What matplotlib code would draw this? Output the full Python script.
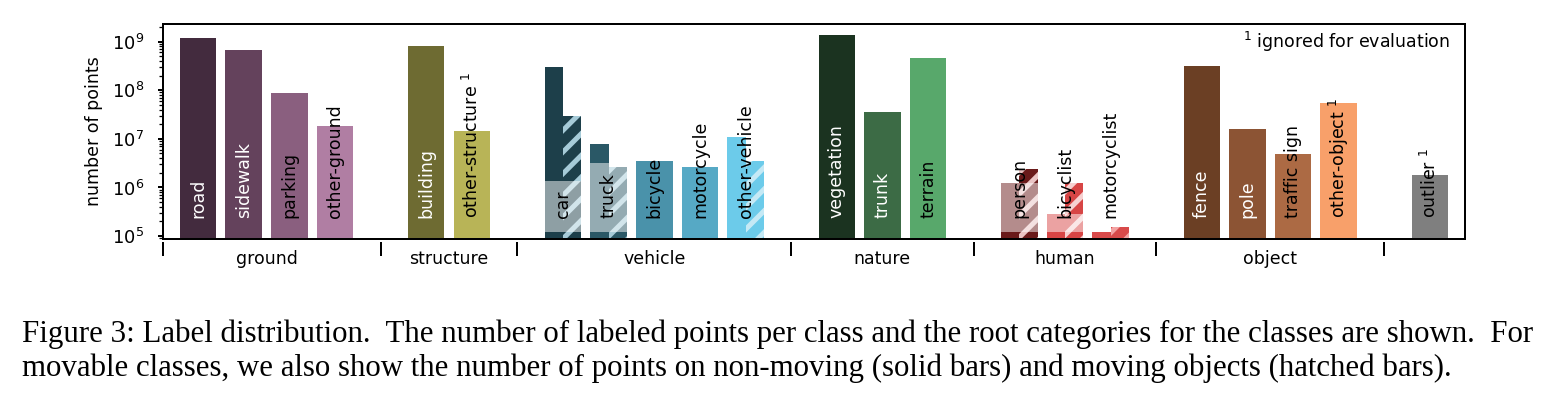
# Label distribution bar chart (log scale) with root categories underneath
import numpy as np
import matplotlib.pyplot as plt

plt.rcParams['hatch.linewidth'] = 2.8

classes = ['road', 'sidewalk', 'parking', 'other-ground',
           'building', 'other-structure',
           'car', 'truck', 'bicycle', 'motorcycle', 'other-vehicle',
           'vegetation', 'trunk', 'terrain',
           'person', 'bicyclist', 'motorcyclist',
           'fence', 'pole', 'traffic sign', 'other-object',
           'outlier']
ignored = ['other-structure', 'other-object', 'outlier']
groups = ['ground', 'structure', 'vehicle', 'nature', 'human', 'object', '']
group_sizes = [4, 2, 5, 3, 3, 4, 1]

# non-moving points per class
points = [1.17e9, 6.7e8, 8.9e7, 1.85e7,
          8.2e8, 1.44e7,
          2.98e8, 7.9e6, 3.5e6, 2.7e6, 1.07e7,
          1.37e9, 3.6e7, 4.6e8,
          1.26e6, 2.85e5, 1.2e5,
          3.16e8, 1.6e7, 4.9e6, 5.6e7,
          1.8e6]
# moving points (hatched half of the bar)
moving = {'car': 2.95e7, 'truck': 2.6e6, 'other-vehicle': 3.5e6,
          'person': 2.35e6, 'bicyclist': 1.23e6, 'motorcyclist': 1.55e5}
# light shaded band on some movable classes
shade_low = 1.2e5
shade_high = {'car': 1.35e6, 'truck': 3.2e6, 'person': 1.26e6, 'bicyclist': 2.85e5}

colors = ['#432b3e', '#64425c', '#8a5f7f', '#b07ea3',
          '#6e6b32', '#b8b457',
          '#1d3f4a', '#2a5866', '#4a92aa', '#56a9c5', '#6ccbea',
          '#1b3320', '#3c6b45', '#58a86b',
          '#6a1a1a', '#d74545', '#d84a4a',
          '#6b3f24', '#8c5434', '#ac6a44', '#f8a06a',
          '#7f7f7f']
hatch_colors = {'car': '#a6cbd8', 'truck': '#a6cbd8', 'other-vehicle': '#c5e9f5',
                'person': '#eac4c4', 'bicyclist': '#f6d0d0', 'motorcyclist': '#f3a3a3'}
white_text = ['road', 'sidewalk', 'building', 'vegetation', 'trunk', 'fence', 'pole']

# x positions: one empty slot between groups
pos, bounds, centers = [], [], []
p = 0
for n in group_sizes:
    pos += list(range(p, p + n))
    centers.append(p + (n - 1) / 2.0)
    bounds.append(p + n)
    p += n + 1

DPI = 130
fig = plt.figure(figsize=(1555 / DPI, 394 / DPI), dpi=DPI)
ax = fig.add_axes((163 / 1555, 1 - 239 / 394, 1302 / 1555, 215 / 394))

w = 0.8
base = 1e4
for i, c in enumerate(classes):
    x = pos[i]
    if c in moving:
        ax.bar(x - w / 4, points[i] - base, width=w / 2, bottom=base, color=colors[i], lw=0)
        ax.bar(x + w / 4, moving[c] - base, width=w / 2, bottom=base, color=colors[i],
               edgecolor=hatch_colors[c], hatch='//', lw=0)
        if c in shade_high:
            ax.bar(x, shade_high[c] - shade_low, width=w, bottom=shade_low,
                   color='white', alpha=0.5, lw=0)
    else:
        ax.bar(x, points[i] - base, width=w, bottom=base, color=colors[i], lw=0)
    label = c + r' $^1$' if c in ignored else c
    ax.text(x, 2.3e5, label, rotation=90, ha='center', va='bottom', fontsize=9.6,
            color='white' if c in white_text else 'black')

ax.set_yscale('log')
ax.set_ylim(8.7e4, 2.31e9)
xlim = (-0.77, 27.77)
ax.set_xlim(*xlim)
ax.set_xticks([])
ax.set_ylabel('number of points', fontsize=9.6, labelpad=5)
ax.tick_params(axis='y', which='major', length=2.8, width=1.1, labelsize=10, pad=7.5)
ax.tick_params(axis='y', which='minor', length=2.2, width=0.7)
for s in ax.spines.values():
    s.set_linewidth(1.1)

ax.text(0.9885, 0.972, r'$^1$ ignored for evaluation', transform=ax.transAxes,
        ha='right', va='top', fontsize=9.6)

# root categories as a second x axis below
ax2 = ax.twiny()
ax2.xaxis.set_ticks_position('bottom')
ax2.xaxis.set_label_position('bottom')
for s in ax2.spines.values():
    s.set_visible(False)
ax2.spines['bottom'].set_position(('outward', 1.7))
ax2.set_xticks([xlim[0]] + [b for b in bounds if b < xlim[1]])
ax2.set_xticklabels([])
ax2.set_xticks(centers, minor=True)
ax2.set_xticklabels(groups, minor=True, fontsize=9.6)
ax2.tick_params(axis='x', which='major', length=7.5, width=1.1, direction='out')
ax2.tick_params(axis='x', which='minor', length=0, pad=4.5)
ax2.set_xlim(*xlim)

cap_font = dict(family='Liberation Serif', fontsize=17.1)
fig.text(22 / 1555, 1 - 342 / 394,
         'Figure 3: Label distribution.  The number of labeled points per class and the root categories for the classes are shown.  For',
         va='baseline', ha='left', **cap_font)
fig.text(22 / 1555, 1 - 376 / 394,
         'movable classes, we also show the number of points on non-moving (solid bars) and moving objects (hatched bars).',
         va='baseline', ha='left', **cap_font)

fig.savefig('out.png', dpi=DPI)
